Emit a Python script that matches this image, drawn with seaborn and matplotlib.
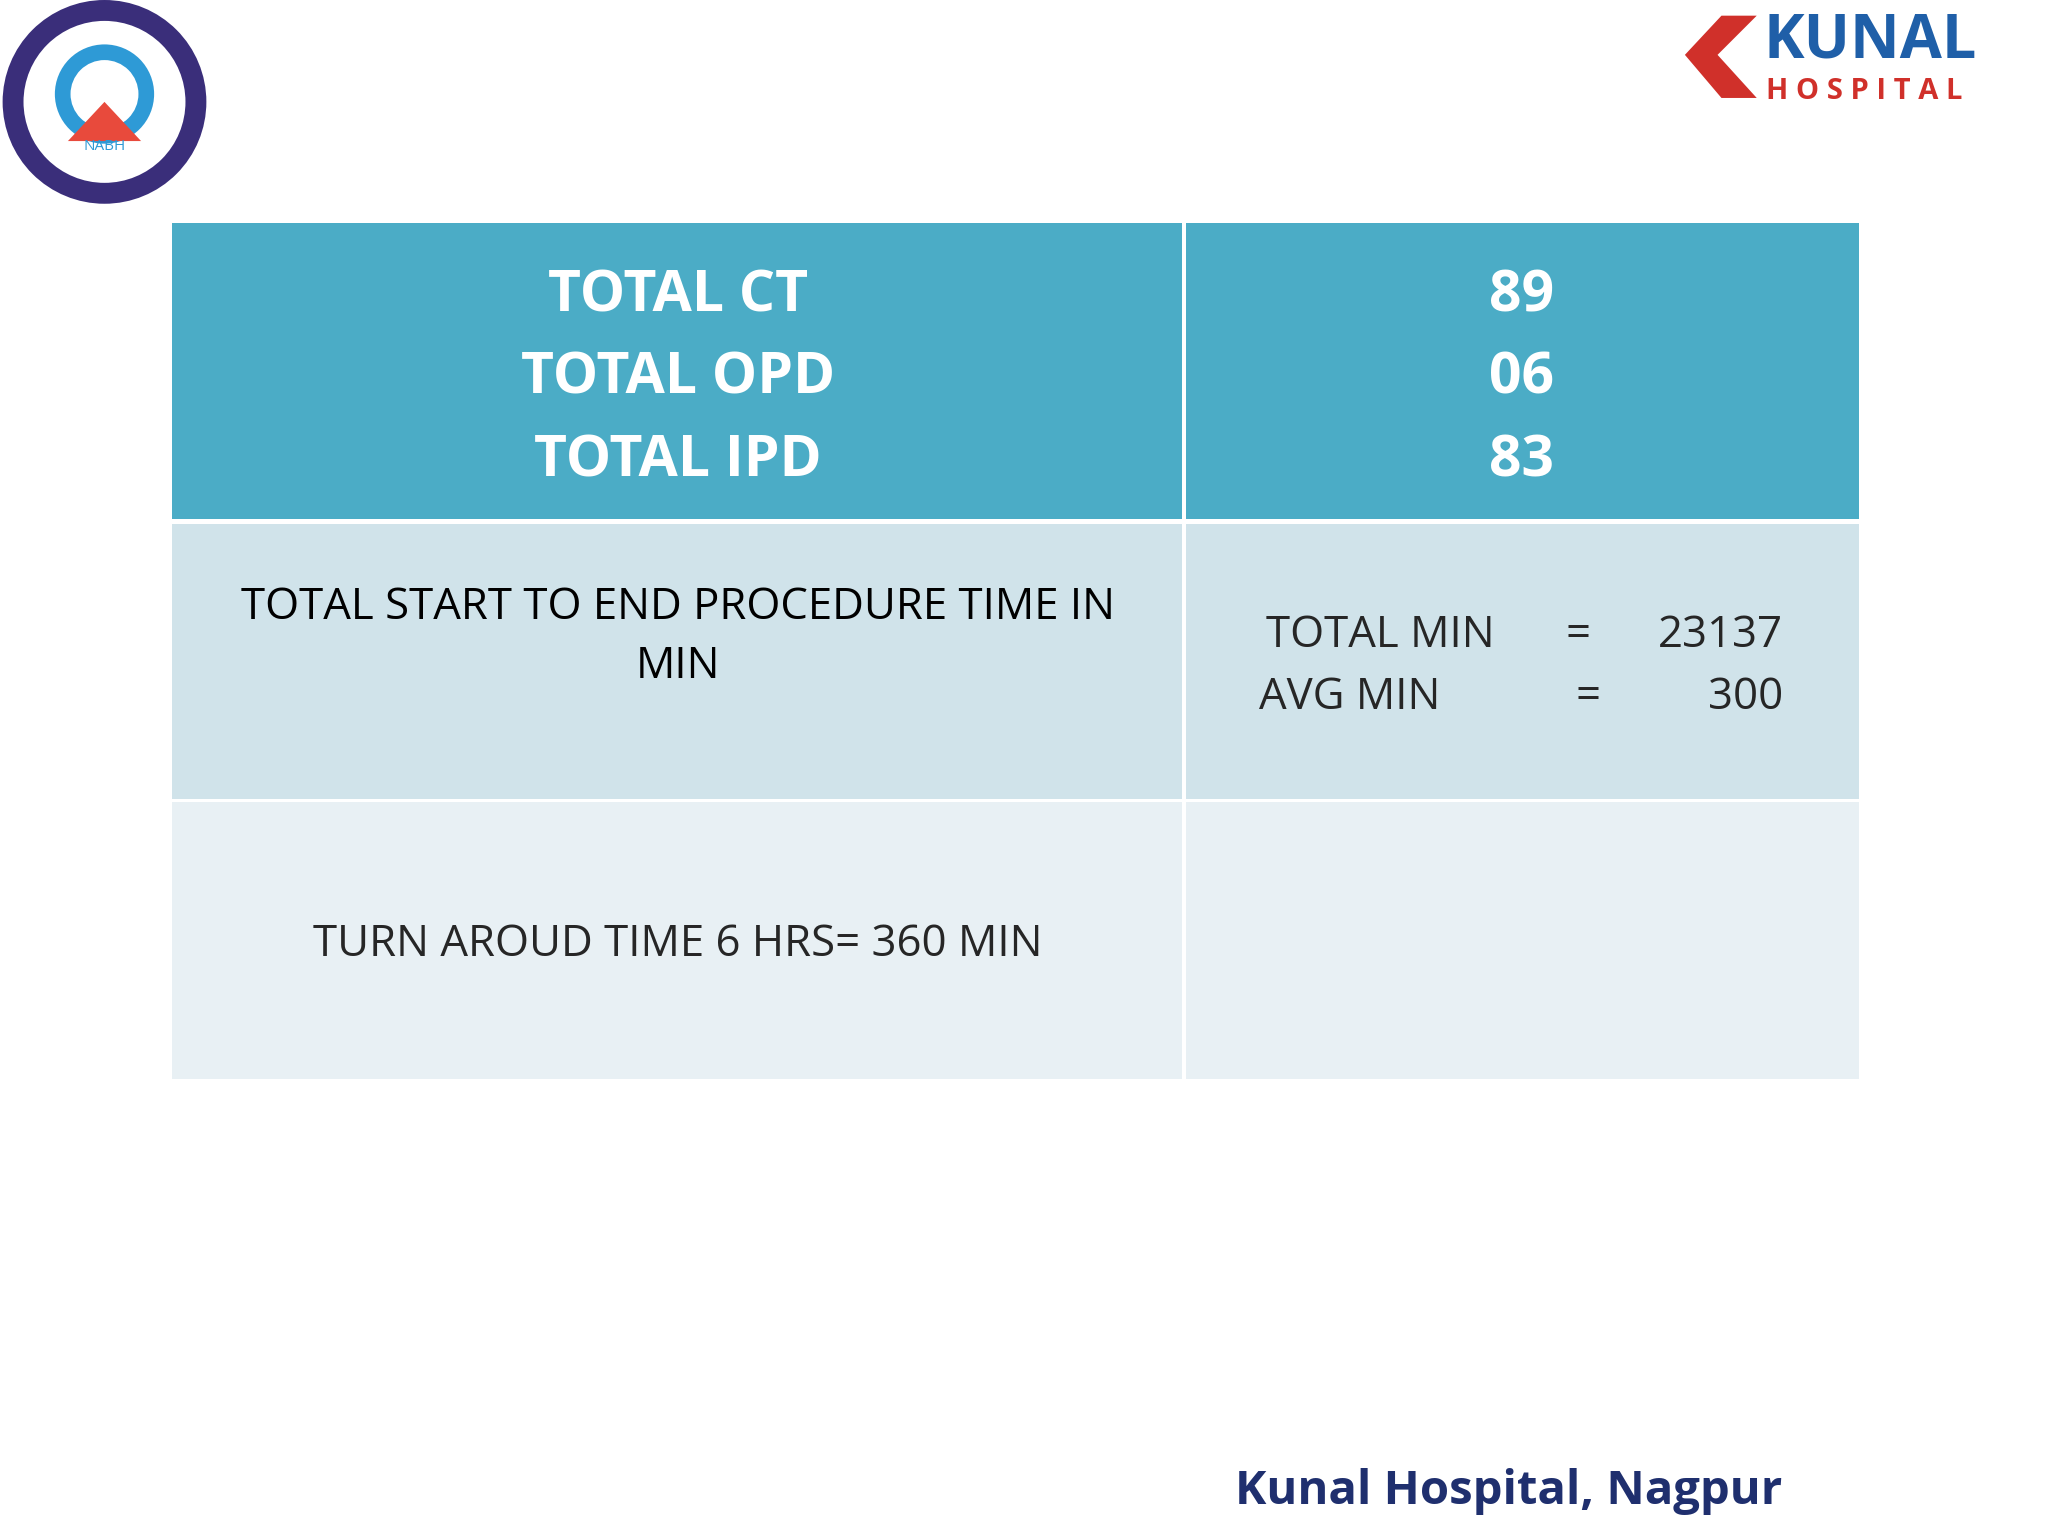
import matplotlib
matplotlib.use("Agg")
import matplotlib.pyplot as plt
import matplotlib.patches as mp
import seaborn as sns

sns.set_style("white")
plt.rcParams['font.family'] = ['Open Sans', 'DejaVu Sans']

header_labels = ["TOTAL CT", "TOTAL OPD", "TOTAL IPD"]
header_values = ["89", "06", "83"]
row2_label = "TOTAL START TO END PROCEDURE TIME IN\nMIN"
row2_keys = ["TOTAL MIN", "AVG MIN"]
row2_vals = ["23137", "300"]
row3_label = "TURN AROUD TIME 6 HRS= 360 MIN"
footer = "Kunal Hospital, Nagpur"

W, H = 1568, 1176
fig = plt.figure(figsize=(20.48, 15.36), dpi=100)
ax = fig.add_axes([0, 0, 1, 1])
ax.set_xlim(0, W); ax.set_ylim(H, 0); ax.axis("off")

xl, xm, xr = 132, 906, 1423
rows = [(171, 397, "#4BACC6"), (401, 612, "#D0E3EA"), (614, 826, "#E8F0F4")]
for y0, y1, c in rows:
    ax.add_patch(mp.Rectangle((xl, y0), xm - xl - 1, y1 - y0, color=c, lw=0))
    ax.add_patch(mp.Rectangle((xm + 2, y0), xr - xm - 2, y1 - y0, color=c, lw=0))

hys = [227, 290, 353]
for y, lab, val in zip(hys, header_labels, header_values):
    ax.text(519, y, lab, ha="center", va="center", color="white", fontsize=41, fontweight="bold")
    ax.text(1165, y, val, ha="center", va="center", color="white", fontsize=41, fontweight="bold")

ax.text(519, 488, row2_label, ha="center", va="center", color="black", fontsize=31.5, linespacing=1.42)
for y, k, v in zip([487, 534], row2_keys, row2_vals):
    ax.text(964 if k == "AVG MIN" else 969, y, k, ha="left", va="center", fontsize=31.5)
    ax.text(1208 if k == "TOTAL MIN" else 1216, y, "=", ha="center", va="center", fontsize=31.5)
    ax.text(1365, y, v, ha="right", va="center", fontsize=31.5)
ax.text(519, 723, row3_label, ha="center", va="center", fontsize=31.5)

ax.text(1155, 1142, footer, ha="center", va="center", color="#1F2F6E", fontsize=34, fontweight="bold")

# NABH logo approximation
ax.add_patch(mp.Circle((80, 78), 78, color="#3A2E7A", lw=0))
ax.add_patch(mp.Circle((80, 78), 62, color="white", lw=0))
ax.add_patch(mp.Circle((80, 72), 38, color="#2E9AD6", lw=0))
ax.add_patch(mp.Circle((80, 72), 26, color="white", lw=0))
ax.add_patch(mp.Polygon([(52, 108), (80, 78), (108, 108)], color="#E84A3C", lw=0))
ax.text(80, 112, "NABH", ha="center", va="center", color="#2E9AD6", fontsize=11)

# Kunal logo approximation
ax.add_patch(mp.Polygon([(1290, 42), (1318, 12), (1345, 12), (1315, 42), (1345, 75), (1318, 75)], color="#D0302A", lw=0))
ax.text(1350, 32, "KUNAL", ha="left", va="center", color="#1F5FA8", fontsize=44, fontweight="bold")
ax.text(1352, 70, "H O S P I T A L", ha="left", va="center", color="#D0302A", fontsize=21, fontweight="bold")

fig.savefig("out.png", dpi=100, facecolor="white")
